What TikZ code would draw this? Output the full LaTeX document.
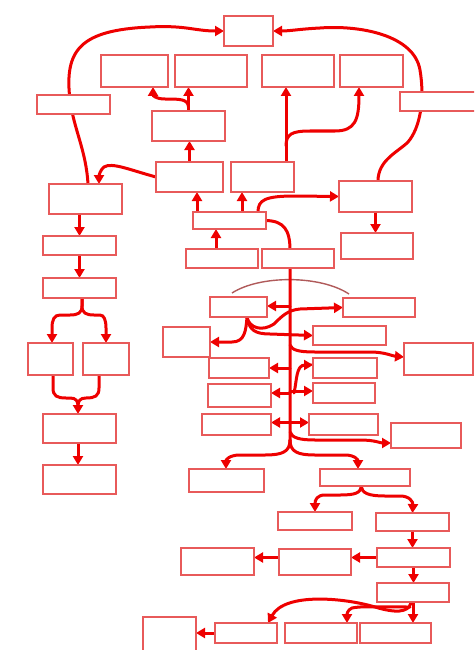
\documentclass[tikz,border=0pt]{standalone}
\usetikzlibrary{arrows.meta,calc,backgrounds}
\definecolor{boxred}{HTML}{E85A5A}
\definecolor{arrred}{HTML}{EE0000}
\definecolor{arcbrown}{HTML}{B05A5A}
\tikzset{
  box/.style={draw=boxred, fill=white, line width=1.1pt, inner sep=0pt, outer sep=0pt},
  spine/.style={draw=arrred, line width=3pt, line cap=round},
  arr/.style={spine, -{Triangle[length=9pt,width=10pt]}},
  darr/.style={spine, {Triangle[length=9pt,width=10pt]}-{Triangle[length=9pt,width=10pt]}},
  arcline/.style={draw=arcbrown, line width=1.4pt}
}
\newcommand\mybox[5]{\node[box, minimum width={(#4-#2)*1pt}, minimum height={(#5-#3)*1pt}] (#1) at ({(#2+#4)/2},{(#3+#5)/2}) {};}
\begin{document}
\begin{tikzpicture}[x=1pt,y=-1pt]
\useasboundingbox (0,0) rectangle (474,650);
\begin{scope}
\clip (0,0) rectangle (474,650);
\mybox{T}{224}{16}{273}{46}
\mybox{A1}{101}{55}{168}{87}
\mybox{A2}{175}{55}{247}{87}
\mybox{A3}{262}{55}{334}{87}
\mybox{A4}{340}{55}{403}{87}
\mybox{L}{37}{95}{110}{114}
\mybox{R}{400}{92}{480}{111}
\mybox{M1}{152}{111}{225}{141}
\mybox{M2}{156}{162}{223}{192}
\mybox{M3}{231}{162}{294}{192}
\mybox{RB}{339}{181}{412}{212}
\mybox{LB}{49}{184}{122}{214}
\mybox{C}{193}{212}{266}{229}
\mybox{B1}{43}{236}{116}{255}
\mybox{B2}{43}{278}{116}{298}
\mybox{RB2}{341}{233}{413}{259}
\mybox{D1}{186}{249}{258}{268}
\mybox{D2}{262}{249}{334}{268}
\mybox{E1}{210}{297}{267}{317}
\mybox{E2}{343}{298}{415}{317}
\mybox{F0}{163}{327}{210}{357}
\mybox{F2}{313}{326}{386}{345}
\mybox{F3}{404}{343}{473}{375}
\mybox{G1}{209}{358}{269}{378}
\mybox{G2}{313}{358}{377}{378}
\mybox{H1}{208}{384}{271}{407}
\mybox{H2}{313}{383}{375}{403}
\mybox{I1}{202}{414}{271}{435}
\mybox{I2}{309}{414}{378}{435}
\mybox{J}{391}{423}{461}{448}
\mybox{K1}{28}{343}{73}{375}
\mybox{K2}{83}{343}{129}{375}
\mybox{K3}{43}{414}{116}{443}
\mybox{K4}{43}{465}{116}{494}
\mybox{L1}{189}{469}{264}{492}
\mybox{L2}{320}{469}{410}{486}
\mybox{Ma}{278}{512}{352}{530}
\mybox{Mb}{376}{513}{449}{531}
\mybox{N1}{181}{548}{254}{575}
\mybox{N2}{279}{549}{351}{575}
\mybox{N3}{377}{548}{450}{567}
\mybox{O}{377}{583}{449}{602}
\mybox{P1}{215}{623}{277}{643}
\mybox{P2}{285}{623}{357}{643}
\mybox{P3}{360}{623}{431}{643}
\mybox{Q}{143}{617}{196}{660}
\end{scope}
\coordinate (sp) at (290,0);
\coordinate (m3b) at (286,146);
\coordinate (s0) at (290,440);
\coordinate (sJ) at (290,432);
\coordinate (sF) at (290,345);
\coordinate (sG) at (294,393);
\begin{pgfonlayer}{background}
% top loops
\draw[arr] ($(LB.north)+(2.5,0)$) .. controls (86,150) and (74,130) .. (70,100) .. controls (64,50) and (80,30) .. (150,27) .. controls (185,25) and (195,31) .. (T.west);
\draw[arr] ($(RB.north)+(2.5,0)$) .. controls (378,160) and (398,152) .. (408,142) .. controls (420,128) and (425,100) .. (420,70) .. controls (414,35) and (360,25) .. (320,28) .. controls (300,29) and (290,31) .. (T.east);
% M1 to A1 / A2
\draw[arr] (M1.north) -- (M1.north |- A2.south);
\draw[arr] ($(M1.north)+(0,-4)$) .. controls (188,99) and (180,99) .. (165,99) .. controls (155,99) and (153,95) .. ($(A1.south)+(18.5,0)$);
% M2
\draw[arr] (M2.north) -- (M2.north |- M1.south);
\draw[arr] (M2.west) .. controls (130,170) and (112,162) .. (104,167) .. controls (100,170) and (99,176) .. ($(LB.north)+(13.5,0)$);
% M3
\draw[arr] ($(M3.north)+(23.5,0)$) -- ($(A3.south)+(-12,0)$);
\draw[arr] (m3b) .. controls (286,134) and (292,131) .. (310,131) -- (335,131) .. controls (355,131) and (359,120) .. ($(A4.south)+(-12.5,0)$);
% C
\draw[arr] ($(C.north)+(-32.5,0)$) -- ($(M2.south)+(7.5,0)$);
\draw[arr] ($(C.north)+(12.5,0)$) -- ($(M3.south)+(-20.5,0)$);
\draw[arr] ($(C.north)+(28.5,0)$) .. controls (258,200) and (265,196) .. (295,196) -- (RB.west);
\draw[arr] ($(D1.north)+(-6,0)$) -- ($(D1.north |- C.south)+(-6,0)$);
% right
\draw[arr] (RB.south) -- (RB.south |- RB2.north);
% arc
\draw[arcline] (232,293) .. controls (260,275) and (320,275) .. (349,294);
% spine
\draw[spine] (C.east) .. controls (284,221) and (290,230) .. (290,250) -- (290,446);
\draw[arr] (s0) .. controls (290,452) and (282,455) .. (265,455) -- (240,455) .. controls (229,455) and (226,460) .. ($(L1.north)+(-0.5,0)$);
\draw[arr] (s0) .. controls (290,452) and (298,455) .. (315,455) -- (345,455) .. controls (355,455) and (358,460) .. ($(L2.north)+(-7,0)$);
\draw[arr] (sJ) .. controls (292,438) and (300,440) .. (315,440) -- (360,440) .. controls (375,440) and (380,443) .. ($(J.west)+(0,7.5)$);
% E row
\draw[arr] ($(E1.east -| sp)+(0,-1)$) -- ($(E1.east)+(0,-1)$);
\draw[arr] ($(E1.south)+(8.5,0)$) .. controls (249,328) and (262,332) .. (274,324) .. controls (282,316) and (288,310) .. (300,309) -- (E2.west);
\draw[arr] ($(E1.south)+(8.5,0)$) .. controls (249,330) and (255,334) .. (270,334) -- (F2.west);
\draw[arr] ($(E1.south)+(8.5,0)$) .. controls (246,330) and (245,342) .. (232,342) -- (F0.east);
\draw[arr] (sF) .. controls (292,350) and (298,352) .. (315,352) -- (370,352) .. controls (385,352) and (392,356) .. ($(F3.west)+(0,-2)$);
% G, H, I rows
\draw[arr] (G1.east -| sp) -- (G1.east);
\draw[arr] (sG) .. controls (297,380) and (296,365) .. (305,365) -- ($(G2.west)+(0,-3)$);
\draw[arr] ($(H1.east -| sp)+(0,-2.5)$) -- ($(H1.east)+(0,-2.5)$);
\draw[arr] ($(H2.west -| sp)+(0,-2)$) -- ($(H2.west)+(0,-2)$);
\draw[darr] ($(I1.east)+(0,-2)$) -- ($(I2.west)+(0,-2)$);
% left column
\draw[arr] (B1.north |- LB.south) -- (B1.north);
\draw[arr] (B1.south) -- (B2.north);
\draw[arr] ($(B2.south)+(2.5,0)$) -- (82,306) .. controls (82,313) and (78,315) .. (70,315) -- (60,315) .. controls (54,315) and (52,320) .. (52,328) -- ($(K1.north)+(1.5,0)$);
\draw[arr] ($(B2.south)+(2.5,0)$) -- (82,306) .. controls (82,313) and (86,315) .. (94,315) -- (100,315) .. controls (104,315) and (106,320) .. (106,328) -- (K2.north);
\draw[spine] ($(K1.south)+(2.5,0)$) -- (53,388) .. controls (53,396) and (57,398) .. (66,398) -- (70,398) .. controls (76,398) and (78,401) .. (78,406);
\draw[arr] ($(K2.south)+(-7,0)$) -- (99,388) .. controls (99,396) and (95,398) .. (86,398) .. controls (80,398) and (78,401) .. (78,406) -- ($(K3.north)+(-1.5,0)$);
\draw[arr] ($(K3.south)+(-1.5,0)$) -- ($(K4.north)+(-1.5,0)$);
% bottom
\draw[arr] ($(L2.south)+(-4,0)$) .. controls (361,493) and (355,495) .. (340,495) -- (325,495) .. controls (317,495) and (315,500) .. (Ma.north);
\draw[arr] ($(L2.south)+(-4,0)$) .. controls (362,493) and (368,496) .. (385,496) -- (400,496) .. controls (410,496) and (413,502) .. (Mb.north);
\draw[arr] (Mb.south) -- (Mb.south |- N3.north);
\draw[arr] (N3.west) -- (N3.west -| N2.east);
\draw[arr] (N2.west |- N3.west) -- (N1.east |- N3.west);
\draw[arr] (N3.south) -- (N3.south |- O.north);
\draw[arr] (O.south) -- (O.south |- P3.north);
\draw[arr] ($(O.south)+(-3,5)$) .. controls (380,607) and (360,606) .. (352,608) .. controls (347,610) and (347,615) .. ($(P2.north)+(26,0)$);
\draw[arr] ($(O.south)+(-2,1)$) .. controls (408,613) and (395,613) .. (375,607) .. controls (345,598) and (285,592) .. ($(P1.north)+(22,0)$);
\draw[arr] (P1.west) -- (P1.west -| Q.east);
\end{pgfonlayer}
\end{tikzpicture}
\end{document}
